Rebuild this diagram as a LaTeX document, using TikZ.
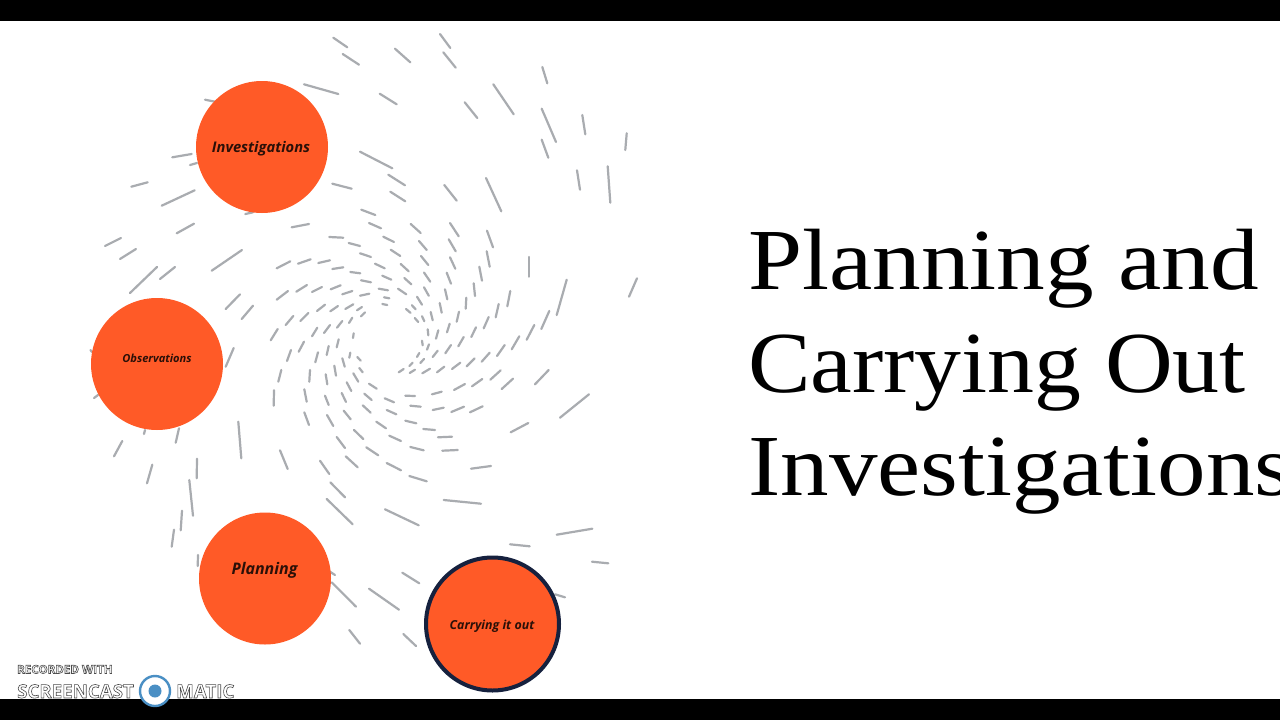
\documentclass[tikz,border=0pt]{standalone}
\usepackage{fontspec}
\setmainfont{Liberation Serif}
\newfontfamily\labelfont{Open Sans}
\tikzset{
  dashmark/.style={draw=dashgrey,line width=2.2pt,line cap=round},
  bubble/.style={circle,fill=bubbleorange,draw=none,minimum size=132pt,inner sep=0pt},
  bubblelabel/.style={text=labeldark,inner sep=0pt,anchor=center},
  titleline/.style={font=\fontsize{87}{87}\selectfont,text=black,inner sep=0pt,anchor=base west},
  bar/.style={fill=black,draw=none},
  wm/.style={inner sep=0pt,anchor=base west}
}
\definecolor{dashgrey}{HTML}{A9ACB0}
\definecolor{bubbleorange}{HTML}{FF5A27}
\definecolor{labeldark}{HTML}{2B1008}
\definecolor{ringdark}{HTML}{16213E}
\definecolor{wmblue}{HTML}{4A8FC4}
\newcommand{\outlined}[1]{\special{pdf:code q 2 Tr 0.6 w 0.3 0.3 0.3 RG 1 1 1 rg}#1\special{pdf:code Q}}
\begin{document}
\begin{tikzpicture}[x=1pt,y=-1pt]
\useasboundingbox (0,0) rectangle (1280,720);
\fill[white] (0,0) rectangle (1280,720);
\clip (0,0) rectangle (1280,720);
\foreach \a/\b/\c/\d in {
333.3/37.7/347.3/47.3, 342.7/54/359/64.7, 304/84.3/338.3/94, 205/99.7/215/101.7,
172.3/157.3/191.7/154, 190/165/197/163, 131.3/186.7/147.7/182.3, 161.7/205.7/194.7/190.3,
176.7/233.3/194/223.7, 332.3/183.7/351.7/188.7, 360/151.7/392.3/168.3, 291.7/227.3/309/224,
329.3/237/343.3/237.7, 245.3/214/253/212.3, 105/246/121/238, 120/259/136/249, 130/293/157/267, 160/279/175/267,
440/34/450.3/48, 443.3/52.3/455.7/67.7, 395/48.7/410.3/62.3, 542.3/67/547.3/83.3,
379.7/93.7/396.7/104.3, 464.7/102.3/477.3/118, 493.3/84.3/513.7/114.3, 541.7/108.7/556/142,
582.3/115/585.3/134.3, 626.7/133.3/625.3/150, 541.7/139.7/548.3/157.7, 577/170.3/580/189.7,
607.7/166.3/610.3/202.7, 388.3/174.7/405/185.3, 390.3/191.7/405.3/201.3, 444.3/185/456.7/200.7,
486/178/501.3/211.3, 361.3/209.7/375.3/215, 369/223/381/228.3, 383.3/236.7/394/242,
410.7/224/420.7/233, 450/223/458.7/236.3, 487/230.7/493/247.3,
348.7/243/360/246, 419/241/426.7/250, 360/253.3/371/257, 390.7/249.7/400.3/256, 421/256/428.3/265,
211.7/270.7/242/250, 276.7/268.3/290.3/261.3, 298/263.7/310.7/259.3, 318.3/263/330/260.3,
332.3/269/343.3/267.3, 350.3/272/360.3/273.3, 375/263.7/384.7/268.3, 400.7/264/408.7/271.3,
424/272.5/430.3/281.7, 361/280.3/371/282.3, 382.3/275.7/391.3/279.7, 404.3/278/411.3/284.3,
424/287.3/428.8/295.8, 225.7/309/240/294.3, 241.7/319/253/305.7, 276.7/299.7/288/291,
296.3/291.7/307/285, 312/292/322/287, 330.7/289.3/340.7/285.3, 342.3/294.3/352.3/291,
360/295.7/369.3/293.7, 378.7/288.7/388/290.3, 384/297.3/389.3/298.3, 382.3/304/387.3/305,
398/288.7/406.3/294.3, 417/296.7/422/304.7, 406/309/410.5/312.8, 411.8/305.2/415.7/309.3,
414.8/318/418.2/322, 422/316.2/424.3/321.2, 270.7/340.3/277.7/329, 285.7/325/293.3/316,
300.3/321/308.3/313, 317/311/325/304.7, 330.3/311.3/338/306, 345.3/309/353.3/304.3,
357/310.3/362/307, 361/316.3/365/312.3, 349/323/352.3/317.7, 337/327.7/342.3/321,
324/333/330/325, 312/336.3/317.3/327.7, 298.7/351.7/304/341.7, 287/361/291/350,
315.3/362.3/318/352.3, 326.7/355/328.7/346, 336.7/347.3/338.7/339.3, 353/338/353.7/333.3,
349.3/357.7/350.3/352.7, 357.3/357/360.7/360.7, 342.3/358.3/344.7/366.7, 334.3/365.7/336/375.7,
225.7/366.7/233.7/348, 359.3/368/362.7/372.3, 353.3/373.3/358.3/381.7,
448.7/239.3/455.7/251.3, 486.7/251.3/489.7/266.7, 529.3/257/529.3/276.7, 450/257.3/455.3/268.7,
479.3/266.7/482/280.7, 446.7/272.7/451/283.7, 566.7/279.7/556.7/315, 473.7/283.3/475/296,
637/278.3/629/296.7, 445/289.3/447.3/299.3, 510.3/291/507.3/306.3, 466.3/297.7/465.7/308.7,
498.7/304/495.7/317.3, 439.7/303/441.7/312.7, 549.3/311/541.3/329, 459/311.7/456.7/321.7,
488.7/317/483.7/328.3, 430.7/312/432.7/320.3, 534.3/325/526.7/339.7, 519.3/336.3/511.7/349.3,
504.7/345/497/356, 476/327.3/471.3/337, 463.7/337/458.3/346.3, 449.7/323.7/447/332.3,
438.3/330.3/436/338.7, 427.7/329.3/428.3/335.3, 422/340.7/422.7/345.3, 429/344.3/427/349.7,
451/345/445.3/353.3, 437.7/350.7/432.7/357, 419.3/353/417/357, 424/359/420.3/363,
412.7/362.7/409.3/366, 403.7/369/398.7/372.3, 415/369.7/409.7/373, 430/368.7/422.3/373.3,
444.3/366.7/437/372.3, 460.3/362.7/452/369, 474.7/358.3/466.7/366.3, 489.7/352.7/481.7/361.7,
500.7/370.3/490.3/379.7, 513/378.7/501.7/389, 548.7/370/535/384.3, 589/394.3/560/417.7,
482.7/406.3/470/412.3, 482.3/379/472/386.3, 464/406.7/451.3/412, 443.7/407.7/432.7/410,
420.7/406.7/410.3/405.7, 465/384/454/390, 441.7/391.7/432/394.3, 415/396/405.3/395.7,
405.3/420.7/416.3/423.3, 423.3/429/435/430, 528.3/423/510.7/432.3,
394/402.3/384.7/398.3, 396.3/414.3/386.7/410, 376.7/388.7/369/383.7, 371.7/400/364.3/393.7,
370.7/412.7/362.7/405.3, 386/428.3/376.3/421.7, 452/436.7/438/437.3, 457.7/450/442.3/450.7,
491/466/471/468.7, 423.7/450.3/410.3/447, 401/441/389.3/435.7, 378.3/455.3/366.3/447.3,
363.3/439/354/430, 350.7/419.3/343.7/410.7, 346/402/341.7/393, 351.3/391/346.7/382.3,
328.7/405/325/395.7, 327.3/384.3/325.7/374.3, 333.3/426/327/415, 345/448/336.7/437,
357.7/467.3/345.7/456.3, 401/470.3/386.7/463, 426.7/481.3/409.3/476, 481/503.7/443.7/500,
418.7/525.3/385/509.3, 352.7/524.3/326.7/499, 345/497.3/330.3/482.3, 329.3/474/320/460.7,
592.3/528.7/556.7/534.7, 529.7/546.3/510/544.3, 608.3/563.3/592/561.7, 565/597.3/555/594.3,
419.3/583.3/402.3/572.7, 399/609.7/369/588.7, 356/606.7/331.7/582.3, 360/643.7/349.3/630,
416/646/403.3/634, 335/575/330/571.7,
281.3/370/278.3/381.7, 310/370/309.3/381.7, 274/390.3/273.7/405.7, 304.3/389.3/306.7/401.7,
304.3/412.3/309/425, 238.3/421.7/241.3/458.3, 280/450.3/287.7/469, 122.3/441/114/456.3,
145/430/144/434, 179/428.3/175.7/442.7, 152.3/464.7/147/483.3, 197/458.7/196.7/478.3,
189.3/480/193/515.7, 182/510.7/180.7/530.3, 174/529.7/171.7/546.7, 198/555/197.7/566,
94/398/98/395, 90.5/350/92/352
}{\draw[dashmark] (\a,\b) -- (\c,\d);}

\node[bubble] (investigations) at (262,147) {};
\node[bubble] (observations) at (157,364) {};
\node[bubble] (planning) at (265,578.5) {};
\node[bubble,minimum size=133pt,draw=ringdark,line width=4pt] (carrying) at (492.5,624) {};

\node[bubblelabel,font=\labelfont\bfseries\itshape\fontsize{14.7}{15}\selectfont] (tinv) at (261,149) {Investigations};
\node[bubblelabel,font=\labelfont\bfseries\itshape\fontsize{11.1}{12}\selectfont] (tobs) at (157,358) {Observations};
\node[bubblelabel,font=\labelfont\bfseries\itshape\fontsize{16}{17}\selectfont] (tpla) at (264.5,570) {Planning};
\node[bubblelabel,font=\labelfont\bfseries\itshape\fontsize{12.4}{13}\selectfont] (tcar) at (492,626.5) {Carrying it out};

\node[titleline] (t1) at (748,289) {\scalebox{1.118}[1]{Planning and}};
\node[titleline] (t2) at (748,392) {\scalebox{1.078}[1]{Carrying Out}};
\node[titleline] (t3) at (748,495) {\scalebox{1.115}[1]{Investigations}};

\fill[bar] (0,0) rectangle (1280,21);
\fill[bar] (0,699) rectangle (1280,720);

\node[wm,font=\labelfont\bfseries\fontsize{11.6}{12}\selectfont] (rec) at (17,673.5) {\outlined{RECORDED WITH}};
\node[wm,font=\labelfont\bfseries\fontsize{18.7}{19}\selectfont] (scr) at (17,698) {\outlined{SCREENCAST}};
\node[wm,font=\labelfont\bfseries\fontsize{18.7}{19}\selectfont] (mat) at (176,698) {\outlined{MATIC}};
\node[circle,fill=white,draw=wmblue,line width=2.4pt,minimum size=30pt,inner sep=0pt] (ring) at (155,691) {};
\node[circle,fill=wmblue,minimum size=13pt,inner sep=0pt] (dot) at (ring.center) {};
\end{tikzpicture}
\end{document}
